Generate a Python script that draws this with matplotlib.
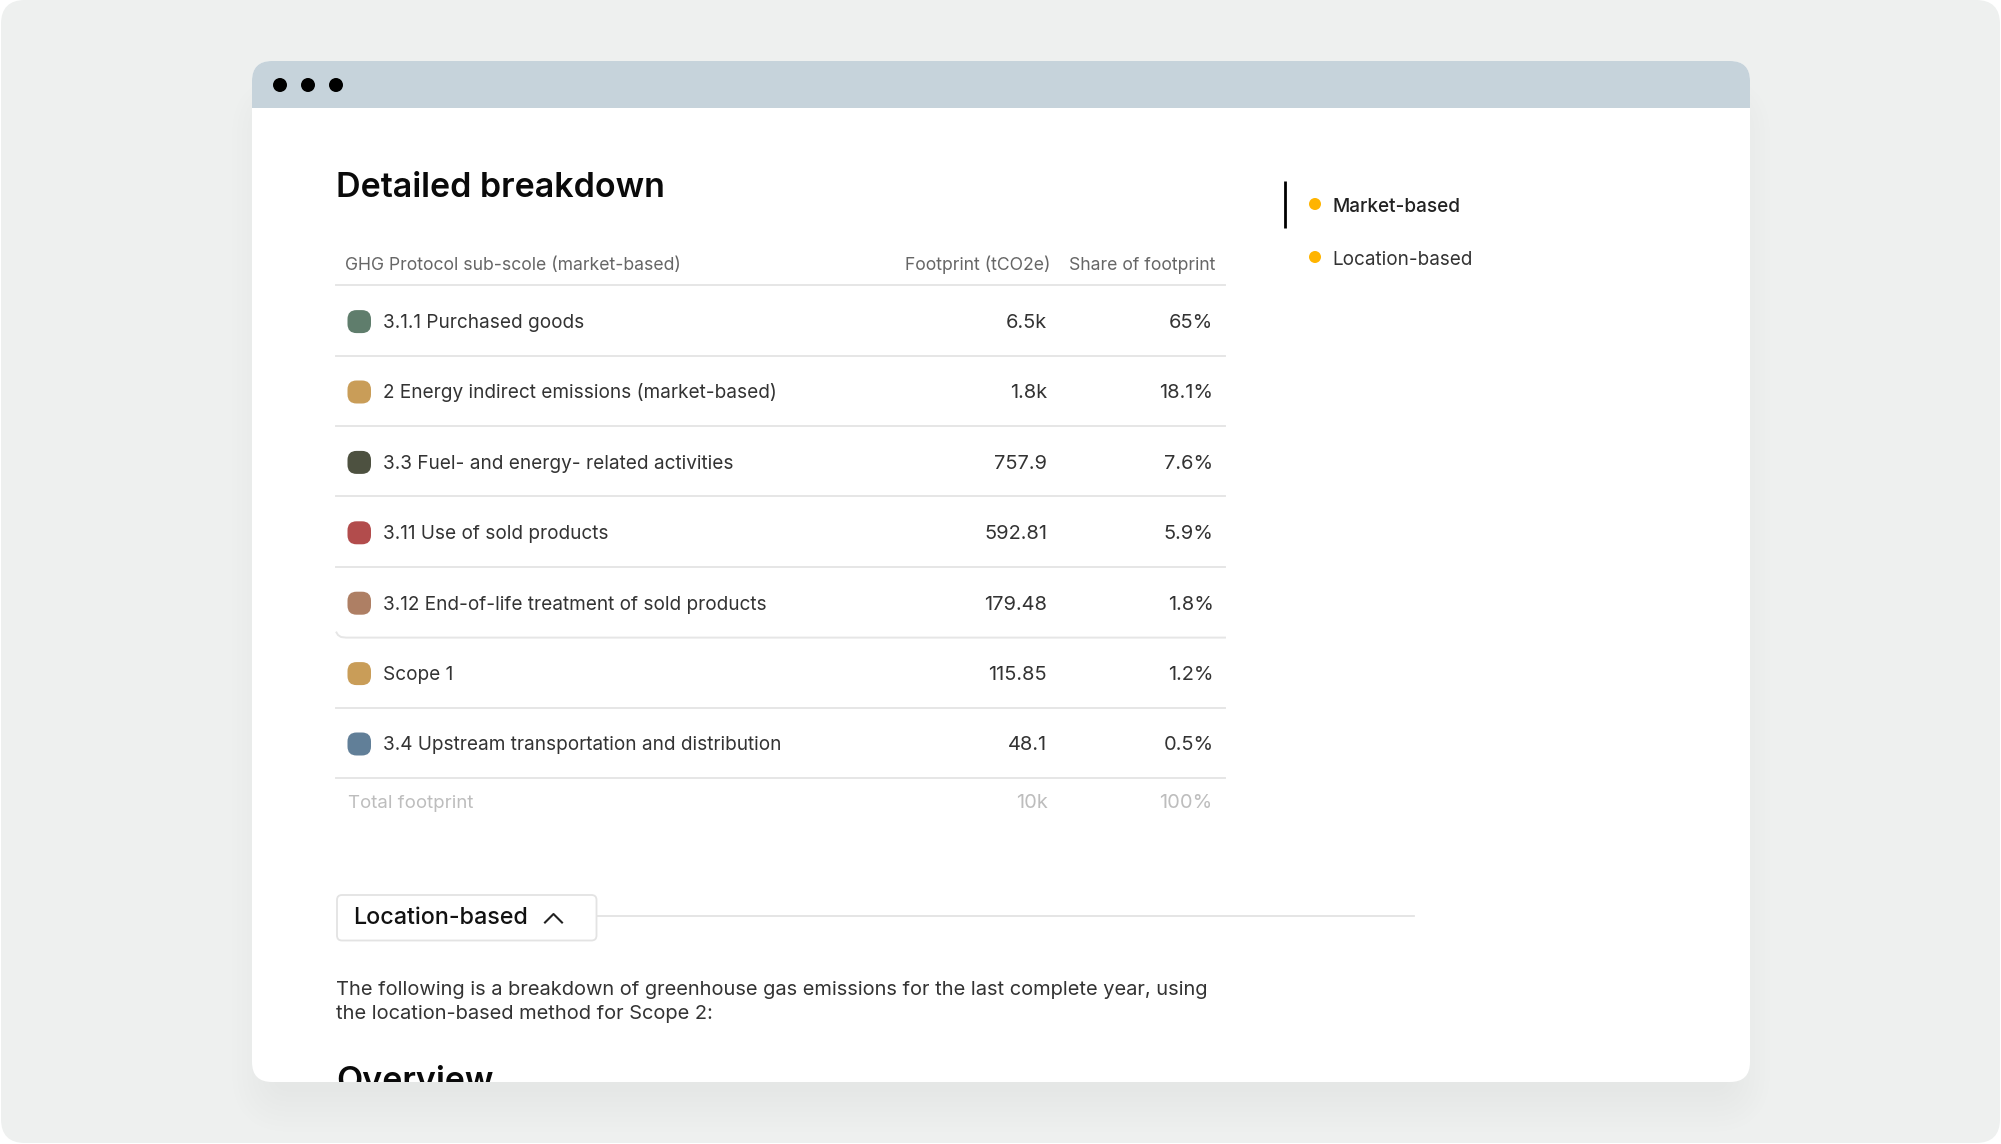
import matplotlib
matplotlib.use('Agg')
import matplotlib.pyplot as plt
from matplotlib.patches import FancyBboxPatch, Rectangle, Circle

plt.rcParams['font.family'] = ['Inter', 'DejaVu Sans']

# table content
categories = ['3.1.1 Purchased goods', '2 Energy indirect emissions (market-based)',
    '3.3 Fuel- and energy- related activities', '3.11 Use of sold products',
    '3.12 End-of-life treatment of sold products', 'Scope 1',
    '3.4 Upstream transportation and distribution']
footprint = ['6.5k', '1.8k', '757.9', '592.81', '179.48', '115.85', '48.1']
share = ['65%', '18.1%', '7.6%', '5.9%', '1.8%', '1.2%', '0.5%']
swatches = ['#5F7D6C', '#C99D58', '#4D5140', '#B24C4C', '#AE7F64', '#C99D58', '#617F98']
headers = ['GHG Protocol sub-scole (market-based)', 'Footprint (tCO2e)', 'Share of footprint']
totals = ['Total footprint', '10k', '100%']
side_items = ['Market-based', 'Location-based']

W, H = 2001, 1144
PT = 0.72  # px to pt at dpi 100


def rbox(ax, x0, y0, x1, y1, r, **kw):
    p = FancyBboxPatch((x0 + r, y0 + r), x1 - x0 - 2 * r, y1 - y0 - 2 * r,
        boxstyle='round,pad=%f,rounding_size=%f' % (r, r), **kw)
    ax.add_patch(p)
    return p


fig = plt.figure(figsize=(W / 100, H / 100), dpi=100, facecolor='white')
ax = fig.add_axes([0, 0, 1, 1])
ax.set_xlim(0, W)
ax.set_ylim(H, 0)
ax.axis('off')

# backdrop
rbox(ax, 1, 0, W - 1, H - 1, 24, fc='#EEF0EF', ec='none', zorder=0)

# soft window shadow, each layer is one grey level darker
for i in range(9):
    g = 5 * i
    rbox(ax, 272 - g, 116 - g, 1730 + g, 1092 + g, 20 + g,
        fc='black', ec='none', alpha=0.0045, zorder=1)

# window
win = rbox(ax, 252, 61, 1750, 1082, 20, fc='white', ec='none', zorder=2)
bar = Rectangle((252, 61), 1498, 47, fc='#C6D3DB', ec='none', zorder=3)
ax.add_patch(bar)
bar.set_clip_path(win)
for x in [280, 308, 336]:
    ax.add_patch(Circle((x, 85), 7, fc='black', ec='none', zorder=4))

ax.text(336.5, 197, 'Detailed breakdown', fontsize=34 * PT, fontweight=600,
    color='#0A0A0A', va='baseline', zorder=5)

# table header
ax.text(345, 270, headers[0], fontsize=17.6 * PT, color='#666666', va='baseline', zorder=5)
ax.text(1050.5, 270, headers[1], fontsize=17.6 * PT, color='#666666', va='baseline', ha='right', zorder=5)
ax.text(1215, 270, headers[2], fontsize=17.6 * PT, color='#666666', va='baseline', ha='right', zorder=5)

row0, row_h = 321.6, 70.4
ax.plot([336, 1225], [285, 285], color='#E6E6E6', lw=1.4, zorder=4)
for i, name in enumerate(categories):
    yc = row0 + i * row_h
    rbox(ax, 347.5, yc - 11.5, 371, yc + 11.5, 9, fc=swatches[i], ec='none', zorder=5)
    ax.text(383, yc + 6.5, name, fontsize=19 * PT, color='#333333', va='baseline', zorder=5)
    ax.text(1047, yc + 6.5, footprint[i], fontsize=20 * PT, color='#333333', va='baseline', ha='right', zorder=5)
    ax.text(1213.5, yc + 6.5, share[i], fontsize=20 * PT, color='#333333', va='baseline', ha='right', zorder=5)
    if i == 4:
        # this row has a rounded lower left corner
        ax.plot([336.5, 338, 341, 346, 1225], [632.5, 635, 637, 637.6, 637.6],
            color='#E6E6E6', lw=1.4, zorder=4)
    else:
        ax.plot([336, 1225], [yc + 34, yc + 34], color='#E6E6E6', lw=1.4, zorder=4)

ax.text(348, 808.5, totals[0], fontsize=18.7 * PT, color='#BDBDBD', va='baseline', zorder=5)
ax.text(1047.5, 808.5, totals[1], fontsize=20 * PT, color='#BDBDBD', va='baseline', ha='right', zorder=5)
ax.text(1212, 808.5, totals[2], fontsize=20 * PT, color='#BDBDBD', va='baseline', ha='right', zorder=5)

# side nav
ax.plot([1284.5, 1284.5], [181, 228], color='black', lw=2, solid_capstyle='butt', zorder=5)
ax.add_patch(Circle((1315, 204), 6, fc='#FFB400', ec='none', zorder=5))
ax.add_patch(Circle((1315, 257), 6, fc='#FFB400', ec='none', zorder=5))
ax.text(1332, 211.5, side_items[0], fontsize=19 * PT, fontweight=500, color='#222222', va='baseline', zorder=5)
ax.text(1332, 265, side_items[1], fontsize=18.9 * PT, color='#333333', va='baseline', zorder=5)

# location-based section
ax.plot([597, 1414], [916, 916], color='#E3E3E3', lw=1.3, zorder=4)
rbox(ax, 337, 895, 596.5, 940.5, 5, fc='white', ec='#E3E3E3', lw=1.3, zorder=5)
ax.text(353.5, 924, side_items[1], fontsize=23.3 * PT, fontweight=500, color='#111111', va='baseline', zorder=6)
ax.plot([545, 553.5, 562], [922.5, 914, 922.5], color='#222222', lw=1.5, zorder=6)

ax.text(336.5, 995, 'The following is a breakdown of greenhouse gas emissions for the last complete year, using',
    fontsize=20.06 * PT, color='#333333', va='baseline', zorder=5)
ax.text(336.5, 1019, 'the location-based method for Scope 2:',
    fontsize=20.06 * PT, color='#333333', va='baseline', zorder=5)

ov = ax.text(336.5, 1091, 'Overview', fontsize=34 * PT, fontweight=600, color='#0A0A0A',
    va='baseline', zorder=5)
ov.set_clip_on(True)
ov.set_clip_path(Rectangle((252, 61), 1498, 1021, transform=ax.transData))

fig.savefig('out.png', dpi=100, facecolor='white')
